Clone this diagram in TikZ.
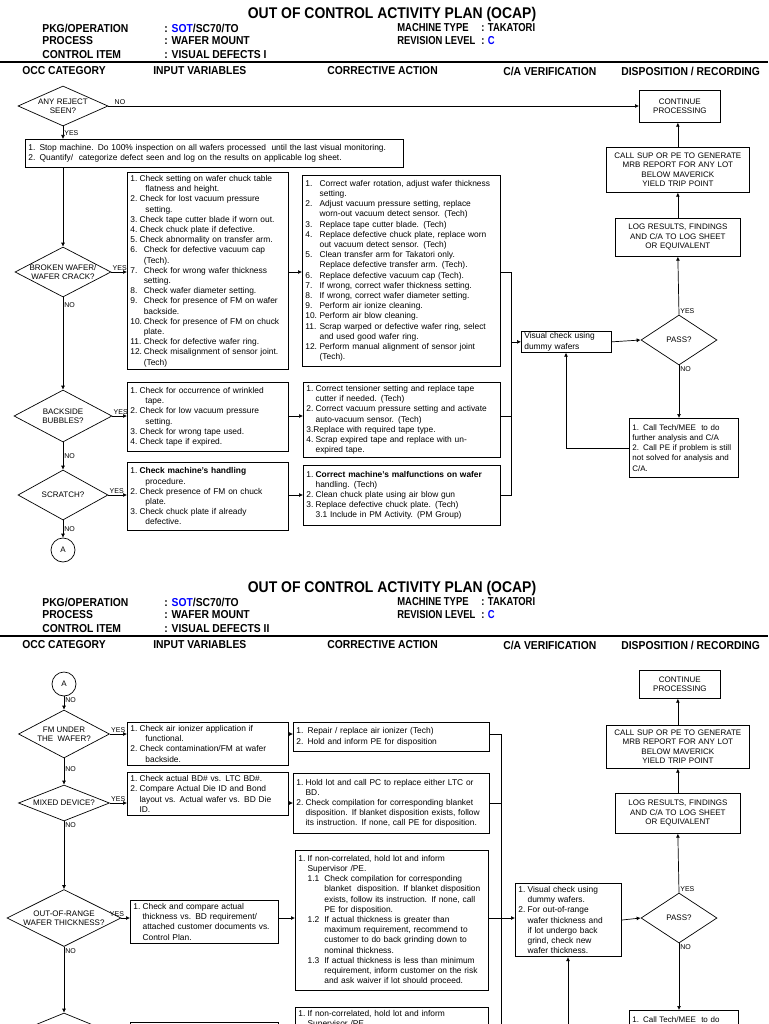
\documentclass[tikz,border=0pt]{standalone}
\usepackage{fontspec}
\setmainfont{Liberation Sans}
\newfontfamily\narrowfont[FakeStretch=0.9]{Liberation Sans}
\newfontfamily\narrowerfont[FakeStretch=0.82]{Liberation Sans}
\usetikzlibrary{arrows.meta,shapes.geometric}

\newcommand{\hd}{\narrowfont\bfseries\fontsize{11.5}{13}\selectfont}
\newcommand{\hdr}{\narrowerfont\bfseries\fontsize{11.5}{13}\selectfont}
\newcommand{\tx}{\fontsize{8.4}{10.2}\selectfont}
\newcommand{\dt}{\fontsize{8}{9.5}\selectfont}
\newcommand{\nm}[2][1.1em]{\makebox[#1][l]{#2}}
\newcommand{\indt}[1][1.1em]{\hspace*{#1}}

\begin{document}
\begin{tikzpicture}[x=1pt, y=-1pt, line width=0.7pt,
    box/.style={draw, anchor=north west, inner sep=3pt, align=left, font=\tx},
    cbox/.style={draw, anchor=north west, inner sep=2pt, align=center, font=\dt},
    dia/.style={draw, diamond, inner sep=0pt},
    dlab/.style={font=\dt, align=center},
    circ/.style={draw, circle, minimum size=24, inner sep=0pt, font=\dt},
    yn/.style={font=\fontsize{7}{8}\selectfont, inner sep=1pt},
    arr/.style={-{Latex[length=4pt,width=4pt]}},
    hdr/.style={font=\hd, inner sep=0pt, anchor=west}]
\useasboundingbox (0,0) rectangle (768,1024);
\clip (0,0) rectangle (768,1024);

\foreach \oy/\ci in {0/I,574/II}{
  \node[font=\narrowfont\bfseries\fontsize{15.5}{17}\selectfont] (title\ci) at (392,14+\oy) {OUT OF CONTROL ACTIVITY PLAN (OCAP)};
  \node[hdr] (pkg\ci) at (42,28+\oy) {PKG/OPERATION};
  \node[hdr] (pkgv\ci) at (164,28+\oy) {: \textcolor{blue}{SOT}/SC70/TO};
  \node[hdr] (proc\ci) at (42,41+\oy) {PROCESS};
  \node[hdr] (procv\ci) at (164,41+\oy) {: WAFER MOUNT};
  \node[hdr] (ctrl\ci) at (42,55+\oy) {CONTROL ITEM};
  \node[hdr] (ctrlv\ci) at (164,55+\oy) {: VISUAL DEFECTS \ci};
  \node[hdr, font=\hdr] (mach\ci) at (397,28+\oy) {MACHINE TYPE};
  \node[hdr, font=\hdr] (machv\ci) at (481,28+\oy) {: TAKATORI};
  \node[hdr, font=\hdr] (rev\ci) at (397,41+\oy) {REVISION LEVEL};
  \node[hdr, font=\hdr] (revv\ci) at (481,41+\oy) {: \textcolor{blue}{C}};
  \draw[line width=2.5pt] (0,62+\oy) -- (768,62+\oy);
  \node[hdr] (occ\ci) at (22,71+\oy) {OCC CATEGORY};
  \node[hdr] (inp\ci) at (153,71+\oy) {INPUT VARIABLES};
  \node[hdr] (cor\ci) at (327,71+\oy) {CORRECTIVE ACTION};
  \node[hdr] (ver\ci) at (503,71+\oy) {C/A VERIFICATION};
  \node[hdr] (dis\ci) at (621,71+\oy) {DISPOSITION / RECORDING};
}

% visual defects I
\node[dia, minimum width=90, minimum height=40, label={[dlab]center:ANY REJECT\\SEEN?}] (rej) at (63,106) {};
\node[cbox, text width=77, minimum height=32] (cont1) at (639,90) {CONTINUE\\PROCESSING};
\node[box, text width=372, minimum height=28] (stop) at (25,139) {1. Stop machine. Do 100\% inspection on all wafers processed\ \ until the last visual monitoring.\\2. Quantify/\ \ categorize defect seen and log on the results on applicable log sheet.};
\node[dia, minimum width=96, minimum height=50, label={[dlab]center:BROKEN WAFER/\\WAFER CRACK?}] (brk) at (63,272) {};
\node[dia, minimum width=98, minimum height=52, label={[dlab]center:BACKSIDE\\BUBBLES?}] (bks) at (63,416) {};
\node[dia, minimum width=90, minimum height=50, label={[dlab]center:SCRATCH?}] (scr) at (63,495) {};
\node[circ] (a1) at (63,550) {A};

\node[box, text width=155, minimum height=195] (in1) at (127,172) {\nm{1.}Check setting on wafer chuck table\\
\indt[1.8em]flatness and height.\\
\nm{2.}Check for lost vacuum pressure\\
\indt[1.8em]setting.\\
\nm{3.}Check tape cutter blade if worn out.\\
\nm{4.}Check chuck plate if defective.\\
\nm{5.}Check abnormality on transfer arm.\\
\nm[1.6em]{6.}Check for defective vacuum cap\\
\indt[1.6em](Tech).\\
\nm[1.6em]{7.}Check for wrong wafer thickness\\
\indt[1.6em]setting.\\
\nm[1.6em]{8.}Check wafer diameter setting.\\
\nm[1.6em]{9.}Check for presence of FM on wafer\\
\indt[1.6em]backside.\\
\nm[1.6em]{10.}Check for presence of FM on chuck\\
\indt[1.6em]plate.\\
\nm[1.6em]{11.}Check for defective wafer ring.\\
\nm[1.6em]{12.}Check misalignment of sensor joint.\\
\indt[1.6em](Tech)};
\node[box, text width=192, minimum height=191] (ca1) at (302,175) {\nm[1.7em]{1.}Correct wafer rotation, adjust wafer thickness\\
\indt[1.7em]setting.\\
\nm[1.7em]{2.}Adjust vacuum pressure setting, replace\\
\indt[1.7em]worn-out vacuum detect sensor. (Tech)\\
\nm[1.7em]{3.}Replace tape cutter blade. (Tech)\\
\nm[1.7em]{4.}Replace defective chuck plate, replace worn\\
\indt[1.7em]out vacuum detect sensor. (Tech)\\
\nm[1.7em]{5.}Clean transfer arm for Takatori only.\\
\indt[1.7em]Replace defective transfer arm. (Tech).\\
\nm[1.7em]{6.}Replace defective vacuum cap (Tech).\\
\nm[1.7em]{7.}If wrong, correct wafer thickness setting.\\
\nm[1.7em]{8.}If wrong, correct wafer diameter setting.\\
\nm[1.7em]{9.}Perform air ionize cleaning.\\
\nm[1.7em]{10.}Perform air blow cleaning.\\
\nm[1.7em]{11.}Scrap warped or defective wafer ring, select\\
\indt[1.7em]and used good wafer ring.\\
\nm[1.7em]{12.}Perform manual alignment of sensor joint\\
\indt[1.7em](Tech).};
\node[box, text width=155, minimum height=69] (in2) at (127,382) {\nm{1.}Check for occurrence of wrinkled\\
\indt[1.8em]tape.\\
\nm{2.}Check for low vacuum pressure\\
\indt[1.8em]setting.\\
\nm{3.}Check for wrong tape used.\\
\nm{4.}Check tape if expired.};
\node[box, text width=191, minimum height=74] (ca2) at (303,382) {\nm{1.}Correct tensioner setting and replace tape\\
\indt cutter if needed. (Tech)\\
\nm{2.}Correct vacuum pressure setting and activate\\
\indt auto-vacuum sensor. (Tech)\\
3.Replace with required tape type.\\
\nm{4.}Scrap expired tape and replace with un-\\
\indt expired tape.};
\node[box, text width=155, minimum height=68] (in3) at (127,462) {\nm{1.}\textbf{Check machine's handling}\\
\indt[1.8em]procedure.\\
\nm{2.}Check presence of FM on chuck\\
\indt[1.8em]plate.\\
\nm{3.}Check chuck plate if already\\
\indt[1.8em]defective.};
\node[box, text width=191, minimum height=60] (ca3) at (303,465) {\nm{1.}\textbf{Correct machine's malfunctions on wafer}\\
\indt handling. (Tech)\\
\nm{2.}Clean chuck plate using air blow gun\\
\nm{3.}Replace defective chuck plate. (Tech)\\
\indt 3.1 Include in PM Activity. (PM Group)};

\node[box, inner ysep=1pt, text width=84, minimum height=21] (vis1) at (521,331) {Visual check using\\dummy wafers};
\node[dia, minimum width=76, minimum height=50, label={[dlab]center:PASS?}] (pass1) at (679,340) {};
\node[cbox, text width=121, minimum height=38] (log1) at (615,218) {LOG RESULTS, FINDINGS\\AND C/A TO LOG SHEET\\OR EQUIVALENT};
\node[cbox, text width=139, minimum height=45] (mrb1) at (606,147) {CALL SUP OR PE TO GENERATE\\MRB REPORT FOR ANY LOT\\BELOW MAVERICK\\YIELD TRIP POINT};
\node[box, font=\fontsize{8}{10.2}\selectfont, text width=103, minimum height=59] (tech1) at (629,418) {1. Call Tech/MEE\ \ to do\\further analysis and C/A\\2. Call PE if problem is still\\not solved for analysis and\\C/A.};
\coordinate (col1) at (511,0);
\coordinate (ret1) at (566,0);

\draw[arr] (rej.east) -- node[yn, anchor=south west, pos=0, xshift=5pt] {NO} (rej.east -| cont1.west);
\draw[arr] (rej.south) -- node[yn, anchor=west, midway] {YES} (rej.south |- stop.north);
\draw[arr] (rej.south |- stop.south) -- (brk.north);
\draw[arr] (brk.south) -- node[yn, anchor=north west, pos=0, yshift=-4pt] {NO} (bks.north);
\draw[arr] (bks.south) -- node[yn, anchor=west, midway] {NO} (scr.north);
\draw[arr] (scr.south) -- node[yn, anchor=west, midway] {NO} (a1.north);
\draw[arr] (brk.east) -- node[yn, anchor=south west, pos=0] {YES} (brk.east -| in1.west);
\draw[arr] (brk.east -| in1.east) -- (brk.east -| ca1.west);
\draw[arr] (bks.east) -- node[yn, anchor=south west, pos=0] {YES} (bks.east -| in2.west);
\draw[arr] (bks.east -| in2.east) -- (bks.east -| ca2.west);
\draw[arr] (scr.east) -- node[yn, anchor=south west, pos=0] {YES} (scr.east -| in3.west);
\draw[arr] (scr.east -| in3.east) -- (scr.east -| ca3.west);
\draw (brk.east -| ca1.east) -- (brk.east -| col1) -- (scr.east -| col1) -- (scr.east -| ca3.east);
\draw (bks.east -| ca2.east) -- (bks.east -| col1);
\draw[arr] (vis1.west -| col1) -- (vis1.west);
\draw[arr] (vis1.east) -- (pass1.west);
\draw[arr] (pass1.north) -- node[yn, anchor=south west, pos=0] {YES} (log1.south);
\draw[arr] (log1.north) -- (mrb1.south);
\draw[arr] (mrb1.north) -- (mrb1.north |- cont1.south);
\draw[arr] (pass1.south) -- node[yn, anchor=north west, pos=0] {NO} (pass1.south |- tech1.north);
\draw[arr] (tech1.west) -| (ret1 |- vis1.south);

% visual defects II
\node[circ] (a2) at (64,684) {A};
\node[dia, minimum width=91, minimum height=48, label={[dlab]center:FM UNDER\\THE\ \ WAFER?}] (fm) at (64,734) {};
\node[dia, minimum width=91, minimum height=36, label={[dlab]center:MIXED DEVICE?}] (mix) at (64,803) {};
\node[dia, minimum width=114, minimum height=57, label={[dlab]center:OUT-OF-RANGE\\WAFER THICKNESS?}] (oor) at (64,918) {};
\node[dia, minimum width=122, minimum height=50] (nxt) at (64,1038) {};

\node[box, text width=155, minimum height=40] (in4) at (127,722) {\nm{1.}Check air ionizer application if\\
\indt[1.8em]functional.\\
\nm{2.}Check contamination/FM at wafer\\
\indt[1.8em]backside.};
\node[box, text width=190, minimum height=29] (ca4) at (293,722) {1. Repair / replace air ionizer (Tech)\\2. Hold and inform PE for disposition};
\node[box, text width=155, minimum height=43] (in5) at (127,772) {\nm{1.}Check actual BD\# vs. LTC BD\#.\\
\nm{2.}Compare Actual Die ID and Bond\\
\indt layout vs. Actual wafer vs. BD Die\\
\indt ID.};
\node[box, text width=190, minimum height=60] (ca5) at (293,773) {\nm{1.}Hold lot and call PC to replace either LTC or\\
\indt BD.\\
\nm{2.}Check compilation for corresponding blanket\\
\indt disposition. If blanket disposition exists, follow\\
\indt its instruction. If none, call PE for disposition.};
\node[box, text width=142, minimum height=43] (in6) at (130,900) {\nm{1.}Check and compare actual\\
\indt thickness vs. BD requirement/\\
\indt attached customer documents vs.\\
\indt Control Plan.};
\node[box, text width=187, minimum height=140] (ca6) at (295,850) {\nm{1.}If non-correlated, hold lot and inform\\
\indt Supervisor /PE.\\
\indt\nm[2em]{1.1}Check compilation for corresponding\\
\indt[3.1em]blanket\ \ disposition. If blanket disposition\\
\indt[3.1em]exists, follow its instruction. If none, call\\
\indt[3.1em]PE for disposition.\\
\indt\nm[2em]{1.2}If actual thickness is greater than\\
\indt[3.1em]maximum requirement, recommend to\\
\indt[3.1em]customer to do back grinding down to\\
\indt[3.1em]nominal thickness.\\
\indt\nm[2em]{1.3}If actual thickness is less than minimum\\
\indt[3.1em]requirement, inform customer on the risk\\
\indt[3.1em]and ask waiver if lot should proceed.};
\node[box, text width=142, minimum height=40] (in7) at (130,1022) {};
\node[box, text width=187] (ca7) at (295,1007) {\nm{1.}If non-correlated, hold lot and inform\\
\indt Supervisor /PE.};

\node[box, text width=100, minimum height=72] (vis2) at (515,883) {\nm{1.}Visual check using\\
\indt dummy wafers.\\
\nm{2.}For out-of-range\\
\indt wafer thickness and\\
\indt if lot undergo back\\
\indt grind, check new\\
\indt wafer thickness.};
\node[dia, minimum width=76, minimum height=50, label={[dlab]center:PASS?}] (pass2) at (679,918) {};
\node[cbox, text width=77, minimum height=28] (cont2) at (639,670) {CONTINUE\\PROCESSING};
\node[cbox, text width=139, minimum height=43] (mrb2) at (606,725) {CALL SUP OR PE TO GENERATE\\MRB REPORT FOR ANY LOT\\BELOW MAVERICK\\YIELD TRIP POINT};
\node[cbox, text width=121, minimum height=40] (log2) at (615,793) {LOG RESULTS, FINDINGS\\AND C/A TO LOG SHEET\\OR EQUIVALENT};
\node[box, font=\fontsize{8}{10.2}\selectfont, text width=103, minimum height=59] (tech2) at (629,1010) {1. Call Tech/MEE\ \ to do\\further analysis and C/A\\2. Call PE if problem is still\\not solved for analysis and\\C/A.};
\coordinate (col2) at (501,0);
\coordinate (ret2) at (568,1040);
\coordinate (bot) at (0,1040);

\draw[arr] (a2.south) -- node[yn, anchor=west, pos=.3] {NO} (fm.north);
\draw[arr] (fm.south) -- node[yn, anchor=west, pos=.4] {NO} (mix.north);
\draw[arr] (mix.south) -- node[yn, anchor=north west, pos=0] {NO} (oor.north);
\draw[arr] (oor.south) -- node[yn, anchor=north west, pos=0] {NO} (nxt.north);
\draw[arr] (fm.east) -- node[yn, anchor=south west, pos=0] {YES} (fm.east -| in4.west);
\draw[arr] (fm.east -| in4.east) -- (fm.east -| ca4.west);
\draw[arr] (mix.east) -- node[yn, anchor=south west, pos=0] {YES} (mix.east -| in5.west);
\draw[arr] (mix.east -| in5.east) -- (mix.east -| ca5.west);
\draw[arr] (oor.east) -- node[yn, anchor=south east, pos=0, xshift=4pt] {YES} (oor.east -| in6.west);
\draw[arr] (oor.east -| in6.east) -- (oor.east -| ca6.west);
\draw (fm.east -| ca4.east) -- (fm.east -| col2) -- (col2 |- bot);
\draw (mix.east -| ca5.east) -- (mix.east -| col2);
\draw[arr] (oor.east -| ca6.east) -- (oor.east -| vis2.west);
\draw[arr] (vis2.east) -- (pass2.west);
\draw[arr] (pass2.north) -- node[yn, anchor=south west, pos=0] {YES} (log2.south);
\draw[arr] (log2.north) -- (mrb2.south);
\draw[arr] (mrb2.north) -- (mrb2.north |- cont2.south);
\draw[arr] (pass2.south) -- node[yn, anchor=north west, pos=0] {NO} (pass2.south |- tech2.north);
\draw[arr] (ret2) -- (ret2 |- vis2.south);
\end{tikzpicture}
\end{document}
